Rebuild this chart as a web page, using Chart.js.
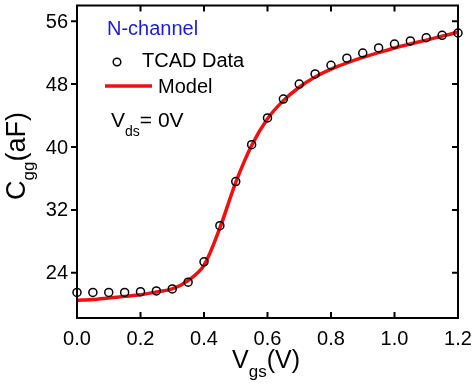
<!DOCTYPE html>
<html>
<head>
<meta charset="utf-8">
<script src="https://cdn.jsdelivr.net/npm/chart.js@4.4.1/dist/chart.umd.min.js"></script>
<style>
  body { margin: 0; background: #fff; }
  #wrap { width: 474px; height: 386px; }
</style>
</head>
<body>
<div id="wrap"><canvas id="cgg" width="474" height="386"></canvas></div>
<script>
// Vgs sweep (V)
const vgs = [0.0, 0.05, 0.1, 0.15, 0.2, 0.25, 0.3, 0.35, 0.4, 0.45, 0.5, 0.55, 0.6,
             0.65, 0.7, 0.75, 0.8, 0.85, 0.9, 0.95, 1.0, 1.05, 1.1, 1.15, 1.2];
// Cgg from TCAD (aF)
const tcadCgg = [21.5, 21.5, 21.5, 21.5, 21.6, 21.7, 21.95, 22.8, 25.4, 30.0, 35.6, 40.3, 43.7,
                 46.1, 48.0, 49.3, 50.4, 51.3, 51.95, 52.6, 53.1, 53.5, 53.9, 54.2, 54.5];
// Cgg from model (aF)
const modelCgg = [20.5, 20.6, 20.8, 21.0, 21.2, 21.55, 21.95, 23.0, 24.95, 29.7, 35.5, 40.2, 43.6,
                  45.9, 47.6, 48.9, 49.9, 50.7, 51.4, 52.0, 52.6, 53.1, 53.6, 54.1, 54.6];
const xTicks = [0.0, 0.2, 0.4, 0.6, 0.8, 1.0, 1.2];
const yTicks = [24, 32, 40, 48, 56];

const FONT = 'Liberation Sans, Arial, sans-serif';
const RED = '#f01010';

function toXY(xs, ys) {
  return xs.map((x, i) => ({ x: x, y: ys[i] }));
}

// text with a subscript, e.g. C_gg(aF)
function subText(ctx, x, y, parts, size, subSize, drop) {
  let cx = x;
  for (const p of parts) {
    ctx.font = (p.sub ? subSize : size) + 'px ' + FONT;
    ctx.fillText(p.t, cx, y + (p.sub ? drop : 0));
    cx += ctx.measureText(p.t).width;
  }
  return cx - x;
}
function subWidth(ctx, parts, size, subSize) {
  let w = 0;
  for (const p of parts) {
    ctx.font = (p.sub ? subSize : size) + 'px ' + FONT;
    w += ctx.measureText(p.t).width;
  }
  return w;
}

const framePlugin = {
  id: 'frame',
  afterDraw(chart) {
    const ctx = chart.ctx;
    const a = chart.chartArea;
    const xs = chart.scales.x, ys = chart.scales.y;
    ctx.save();
    ctx.strokeStyle = '#000';
    ctx.lineWidth = 2;
    ctx.strokeRect(a.left, a.top, a.right - a.left, a.bottom - a.top);
    ctx.beginPath();
    for (const t of xTicks) {
      const px = xs.getPixelForValue(t);
      ctx.moveTo(px, a.bottom); ctx.lineTo(px, a.bottom - 6);
      ctx.moveTo(px, a.top); ctx.lineTo(px, a.top + 6);
    }
    for (const t of yTicks) {
      const py = ys.getPixelForValue(t);
      ctx.moveTo(a.left, py); ctx.lineTo(a.left - 6, py);
      ctx.moveTo(a.right, py); ctx.lineTo(a.right - 6, py);
    }
    ctx.stroke();

    // tick labels
    ctx.fillStyle = '#000';
    ctx.font = '20px ' + FONT;
    ctx.textAlign = 'center';
    ctx.textBaseline = 'alphabetic';
    for (const t of xTicks) {
      ctx.fillText(t.toFixed(1), xs.getPixelForValue(t), a.bottom + 27);
    }
    ctx.textAlign = 'right';
    ctx.textBaseline = 'middle';
    for (const t of yTicks) {
      ctx.fillText(String(t), a.left - 9, ys.getPixelForValue(t) + 1);
    }

    ctx.textBaseline = 'alphabetic';
    ctx.textAlign = 'left';

    // x title
    const xt = [{ t: 'V' }, { t: 'gs', sub: true }, { t: '(V)' }];
    subText(ctx, 232, 368, xt, 25, 17, 9);

    // y title
    const yt = [{ t: 'C' }, { t: 'gg', sub: true }, { t: '(aF)' }];
    const yw = subWidth(ctx, yt, 27, 17);
    ctx.save();
    ctx.translate(25, 156);
    ctx.rotate(-Math.PI / 2);
    subText(ctx, -yw / 2, 0, yt, 27, 17, 9);
    ctx.restore();

    // annotations / legend
    ctx.fillStyle = '#1a1adf';
    ctx.font = '20px ' + FONT;
    ctx.fillText('N-channel', 107, 35);

    ctx.strokeStyle = '#000';
    ctx.lineWidth = 1.5;
    ctx.beginPath();
    ctx.arc(117, 62, 3.8, 0, Math.PI * 2);
    ctx.stroke();
    ctx.fillStyle = '#000';
    ctx.fillText('TCAD Data', 142, 67);

    ctx.strokeStyle = RED;
    ctx.lineWidth = 3.5;
    ctx.beginPath();
    ctx.moveTo(105, 86); ctx.lineTo(152, 86);
    ctx.stroke();
    ctx.fillText('Model', 158, 93);

    subText(ctx, 111, 127, [{ t: 'V' }, { t: 'ds', sub: true }, { t: '= 0V' }], 21, 14, 9);
    ctx.restore();
  }
};

new Chart(document.getElementById('cgg'), {
  type: 'scatter',
  data: {
    datasets: [
      {
        label: 'Model',
        data: toXY(vgs, modelCgg),
        showLine: true,
        borderColor: RED,
        borderWidth: 3.5,
        pointRadius: 0,
        tension: 0.3,
        order: 2
      },
      {
        label: 'TCAD Data',
        data: toXY(vgs, tcadCgg),
        showLine: false,
        pointRadius: 4,
        pointBorderWidth: 1.5,
        pointBorderColor: '#000',
        pointBackgroundColor: 'rgba(0,0,0,0)',
        order: 1
      }
    ]
  },
  options: {
    responsive: false,
    animation: false,
    clip: false,
    layout: { padding: { top: 1, right: 16, left: 0, bottom: 0 } },
    plugins: { legend: { display: false }, tooltip: { enabled: false } },
    scales: {
      x: {
        type: 'linear', min: 0, max: 1.2,
        afterBuildTicks: s => { s.ticks = xTicks.map(v => ({ value: v })); },
        afterFit: s => { s.height = 68; },
        grid: { display: false },
        border: { display: false },
        ticks: { display: false }
      },
      y: {
        type: 'linear', min: 18.25, max: 58,
        afterBuildTicks: s => { s.ticks = yTicks.map(v => ({ value: v })); },
        afterFit: s => { s.width = 77; },
        grid: { display: false },
        border: { display: false },
        ticks: { display: false }
      }
    }
  },
  plugins: [framePlugin]
});
</script>
</body>
</html>
